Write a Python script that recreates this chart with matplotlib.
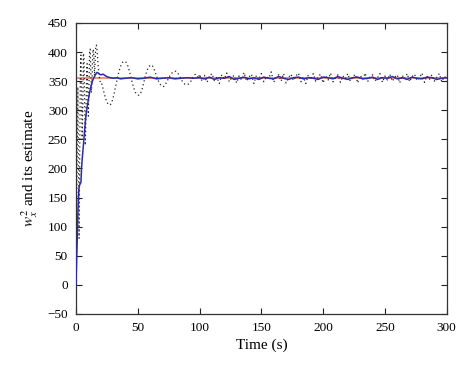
import numpy as np
import matplotlib
matplotlib.use("Agg")
import matplotlib.pyplot as plt

# ---- data ----
true_value = 355

# estimate (blue)
est_t_early = [0, 0.5, 1, 1.5, 2, 2.5, 3, 3.5, 4, 4.5, 5, 6, 7, 8, 9, 10, 11, 12, 13, 14, 15,
               16, 17, 18, 19, 20, 22, 24, 26, 28, 30, 33, 36, 40, 45, 50, 55, 60, 65, 70,
               75, 80, 85, 90, 95]
est_v_early = [0, 40, 77, 120, 150, 168, 172, 174, 176, 200, 215, 240, 266, 290, 305, 318, 330,
               340, 348, 354, 358, 362, 365, 364, 362, 361, 362, 359, 357, 356, 355, 356, 354,
               355, 356, 354, 355, 357, 354, 355, 356, 354, 355, 356, 355]
est_v_late = [356, 354, 357, 353, 356, 355, 358, 353, 355, 357, 354, 356, 353, 357, 355, 354,
              358, 355, 353, 356, 357, 354, 356, 355, 353, 357, 356, 354, 358, 355, 353, 356,
              357, 354, 355, 357, 353, 356, 355, 358, 354, 356, 353, 357, 355, 354, 357, 356,
              353, 355, 356]  # every 4 s from 100 to 300

# measurement (black dotted)
meas_t_early = [0, 0.5, 1, 1.5, 2, 2.5, 3, 3.5, 4, 4.5, 5, 5.5, 6, 6.5, 7, 7.5, 8, 8.5, 9, 9.5,
                10, 10.5, 11, 11.5, 12, 12.5, 13, 13.5, 14, 14.5, 15, 15.5, 16, 16.5, 17, 17.5,
                18, 18.5, 19, 19.5, 20]
meas_v_early = [0, 120, 260, 340, 200, 80, 230, 360, 395, 330, 250, 300, 398, 390, 320, 240,
                280, 350, 380, 330, 290, 340, 400, 405, 370, 330, 350, 395, 405, 390, 360, 385,
                410, 412, 405, 390, 375, 365, 355, 350, 345]
meas_v_mid = [345, 336, 328, 320, 314, 311, 309, 310, 314, 321, 330, 340, 350, 360, 368, 375,
              380, 383, 384, 384, 381, 376, 369, 361, 352, 344, 337, 331, 328, 326, 326, 328,
              333, 340, 349, 358, 365, 371, 375, 377, 378, 376, 372, 366, 360, 354, 349, 345,
              342, 341, 341, 343, 347, 351, 355, 359, 362, 365, 366, 367, 367, 365, 362, 358,
              354, 350, 347, 345, 344, 344, 345, 347, 350, 354, 358, 361, 362, 359, 355]  # t = 21..99
meas_v_late = [362, 350, 360, 348, 358, 363, 351, 357, 346, 361, 354, 364, 349, 356, 360, 347,
               359, 352, 365, 350, 357, 362, 346, 360, 353, 363, 349, 358, 355, 366, 348, 357,
               361, 350, 363, 347, 356, 362, 351, 359, 364, 349, 357, 346, 361, 353, 363, 350,
               358, 362, 347, 360, 352, 364, 349, 356, 361, 348, 359, 354, 363, 350, 357, 362,
               347, 360, 353, 364, 349, 358, 361, 350, 356, 363, 348, 359, 352, 362, 350, 357,
               361, 347, 360, 354, 363, 349, 358, 362, 351, 356, 364, 348, 359, 353, 361, 350,
               357, 363, 349, 358, 355]  # every 2 s from 100 to 300

x_ticks = [0, 50, 100, 150, 200, 250, 300]
y_ticks = [-50, 0, 50, 100, 150, 200, 250, 300, 350, 400, 450]

# ---- assemble ----
est_t = np.concatenate([est_t_early, np.arange(100, 301, 4)])
est_v = np.concatenate([est_v_early, est_v_late])
meas_t = np.concatenate([meas_t_early, np.arange(21, 100), np.arange(100, 301, 2)])
meas_v = np.concatenate([meas_v_early, meas_v_mid, meas_v_late])

plt.rcParams['font.family'] = ['Liberation Serif', 'DejaVu Serif']
plt.rcParams['mathtext.fontset'] = 'stix'

fig = plt.figure(figsize=(4.74, 3.75), dpi=100)
ax = fig.add_axes([0.1603, 0.1627, 0.7821, 0.776])

ax.axhline(true_value, color='#e8806a', lw=1.2, zorder=1)
ax.plot(meas_t, meas_v, color='#222222', ls=(0, (1, 2.2)), lw=0.9, zorder=2)
ax.plot(est_t, est_v, color='#2b2ba8', lw=1.1, zorder=3)

ax.set_xlim(0, 300)
ax.set_ylim(-50, 450)
ax.set_xticks(x_ticks)
ax.set_yticks(y_ticks)
ax.set_yticklabels(['\u221250'] + [str(v) for v in y_ticks[1:]])
ax.tick_params(direction='in', top=True, right=True, length=4, width=0.8,
               labelsize=9.5, pad=6, colors='#222222', labelcolor='black')
for s in ax.spines.values():
    s.set_color('#333333')
    s.set_linewidth(0.9)

ax.set_xlabel('Time (s)', fontsize=11, labelpad=3)
ax.set_ylabel('$w_x^2$ and its estimate', fontsize=11, labelpad=5)

fig.savefig('out.png', dpi=100)
